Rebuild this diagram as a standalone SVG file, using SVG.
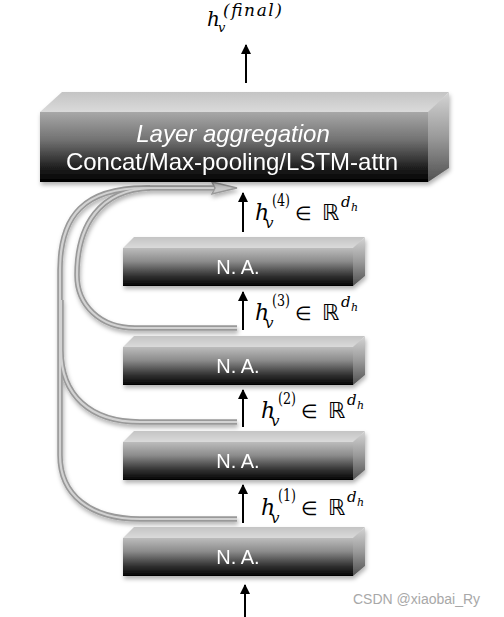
<svg xmlns="http://www.w3.org/2000/svg" width="504" height="617" viewBox="0 0 504 617">
<defs>
  <linearGradient id="gFront" x1="0" y1="0" x2="0" y2="1">
    <stop offset="0" stop-color="#bcbcbc"/>
    <stop offset="0.35" stop-color="#8c8c8c"/>
    <stop offset="0.75" stop-color="#2e2e2e"/>
    <stop offset="1" stop-color="#030303"/>
  </linearGradient>
  <linearGradient id="gBigFront" x1="0" y1="0" x2="0" y2="1">
    <stop offset="0" stop-color="#a8a8a8"/>
    <stop offset="0.4" stop-color="#727272"/>
    <stop offset="0.8" stop-color="#1e1e1e"/>
    <stop offset="1" stop-color="#000000"/>
  </linearGradient>
  <linearGradient id="gTop" x1="0" y1="0" x2="0" y2="1">
    <stop offset="0" stop-color="#c4c4c4"/>
    <stop offset="1" stop-color="#dadada"/>
  </linearGradient>
  <linearGradient id="gSide" x1="0" y1="0" x2="0" y2="1">
    <stop offset="0" stop-color="#d4d4d4"/>
    <stop offset="0.5" stop-color="#9a9a9a"/>
    <stop offset="1" stop-color="#505050"/>
  </linearGradient>
  <filter id="shadow" x="-10%" y="-20%" width="130%" height="160%">
    <feDropShadow dx="1" dy="3" stdDeviation="2" flood-color="#000" flood-opacity="0.3"/>
  </filter>
  <marker id="blk" viewBox="0 0 10 10" refX="9" refY="5" markerWidth="10" markerHeight="10" markerUnits="userSpaceOnUse" orient="auto">
    <path d="M0,0 L10,5 L0,10 Z" fill="#000"/>
  </marker>
</defs>
<style>
  .na { font-family: "Liberation Sans", Arial, sans-serif; font-size: 20px; fill: #fff; text-anchor: middle; }
  .big { font-family: "Liberation Sans", Arial, sans-serif; font-size: 24px; fill: #fff; text-anchor: middle; }
  .m { font-family: "DejaVu Serif", serif; fill: #000; }
  .it { font-style: italic; }
  .sym { font-family: "DejaVu Sans", sans-serif; }
  .arr { stroke: #000; stroke-width: 2; fill: none; marker-end: url(#blk); }
  .tubeO { fill: none; stroke: #999999; stroke-width: 5.5; }
  .tubeI { fill: none; stroke: #d2d2d2; stroke-width: 2.2; }
  .wm { font-family: "Liberation Sans", Arial, sans-serif; font-size: 14px; fill: #a8a8a8; }
</style>

<g id="connectors">
  <g id="skip-connections" filter="url(#shadow)">
    <path class="tubeO" d="M237,519 H140 C90,519 60,495 60,455 V270 C60,215 85,188 145,188 H214"/>
    <path class="tubeO" d="M237,422 H140 C90,422 61,395 61,350 V300"/>
    <path class="tubeO" d="M237,328 H135 C100,328 77,305 77,275 C77,225 100,190 150,188"/>
    <path class="tubeI" d="M237,519 H140 C90,519 60,495 60,455 V270 C60,215 85,188 145,188 H214"/>
    <path class="tubeI" d="M237,422 H140 C90,422 61,395 61,350 V300"/>
    <path class="tubeI" d="M237,328 H135 C100,328 77,305 77,275 C77,225 100,190 150,188"/>
    <polygon points="212,182 237,188 212,194 215,188" fill="#c8c8c8" stroke="#999999" stroke-width="1.5"/>
  </g>
  <line class="arr" x1="246" y1="83" x2="246" y2="45"/>
  <line class="arr" x1="243" y1="232" x2="243" y2="193"/>
  <line class="arr" x1="243" y1="330" x2="243" y2="292"/>
  <line class="arr" x1="243" y1="427" x2="243" y2="390"/>
  <line class="arr" x1="243" y1="523" x2="243" y2="485"/>
  <line class="arr" x1="245" y1="617" x2="245" y2="585"/>
</g>

<g id="layer-aggregation" filter="url(#shadow)">
  <polygon points="40,112 62,92 449,92 428,112" fill="url(#gTop)"/>
  <polygon points="428,112 449,92 449,168 428,182" fill="url(#gSide)"/>
  <rect x="40" y="112" width="388" height="70" fill="url(#gBigFront)"/>
  <text class="big" x="233" y="142" font-style="italic">Layer aggregation</text>
  <text class="big" x="232" y="170">Concat/Max-pooling/LSTM-attn</text>
</g>

<g id="na4" filter="url(#shadow)">
  <polygon points="123,248 134,237 365,237 353,248" fill="url(#gTop)"/>
  <polygon points="353,248 365,237 365,276 353,286" fill="url(#gSide)"/>
  <rect x="123" y="248" width="230" height="38" fill="url(#gFront)"/>
  <text class="na" x="238" y="274">N. A.</text>
</g>
<g id="na3" filter="url(#shadow)">
  <polygon points="123,347 134,336 365,336 353,347" fill="url(#gTop)"/>
  <polygon points="353,347 365,336 365,375 353,385" fill="url(#gSide)"/>
  <rect x="123" y="347" width="230" height="38" fill="url(#gFront)"/>
  <text class="na" x="238" y="373">N. A.</text>
</g>
<g id="na2" filter="url(#shadow)">
  <polygon points="123,442 134,431 365,431 353,442" fill="url(#gTop)"/>
  <polygon points="353,442 365,431 365,470 353,480" fill="url(#gSide)"/>
  <rect x="123" y="442" width="230" height="38" fill="url(#gFront)"/>
  <text class="na" x="238" y="468">N. A.</text>
</g>
<g id="na1" filter="url(#shadow)">
  <polygon points="123,538 134,527 365,527 353,538" fill="url(#gTop)"/>
  <polygon points="353,538 365,527 365,566 353,576" fill="url(#gSide)"/>
  <rect x="123" y="538" width="230" height="38" fill="url(#gFront)"/>
  <text class="na" x="238" y="564">N. A.</text>
</g>

<g id="label-final">
  <text class="m"><tspan class="it" x="207" y="26" font-size="20">h</tspan><tspan class="it" x="218" y="32" font-size="13">v</tspan><tspan class="it" x="223" y="16" font-size="17" textLength="59">(final)</tspan></text>
</g>

<g id="label-h4">
  <text class="m"><tspan class="it" x="255" y="220" font-size="22">h</tspan><tspan class="it" x="265" y="228" font-size="15">v</tspan><tspan x="272" y="206" font-size="17" textLength="18" lengthAdjust="spacingAndGlyphs">(4)</tspan><tspan class="sym" x="295" y="220" font-size="19">∈</tspan><tspan class="sym" x="322" y="220" font-size="22">ℝ</tspan><tspan class="it" x="341" y="207" font-size="15">d</tspan><tspan class="it" x="351" y="211" font-size="11">h</tspan></text>
</g>
<g id="label-h3">
  <text class="m"><tspan class="it" x="255" y="320" font-size="22">h</tspan><tspan class="it" x="265" y="328" font-size="15">v</tspan><tspan x="272" y="306" font-size="17" textLength="18" lengthAdjust="spacingAndGlyphs">(3)</tspan><tspan class="sym" x="295" y="320" font-size="19">∈</tspan><tspan class="sym" x="322" y="320" font-size="22">ℝ</tspan><tspan class="it" x="341" y="307" font-size="15">d</tspan><tspan class="it" x="351" y="311" font-size="11">h</tspan></text>
</g>
<g id="label-h2">
  <text class="m"><tspan class="it" x="261" y="418" font-size="22">h</tspan><tspan class="it" x="271" y="426" font-size="15">v</tspan><tspan x="278" y="404" font-size="17" textLength="18" lengthAdjust="spacingAndGlyphs">(2)</tspan><tspan class="sym" x="301" y="418" font-size="19">∈</tspan><tspan class="sym" x="328" y="418" font-size="22">ℝ</tspan><tspan class="it" x="347" y="405" font-size="15">d</tspan><tspan class="it" x="357" y="409" font-size="11">h</tspan></text>
</g>
<g id="label-h1">
  <text class="m"><tspan class="it" x="261" y="515" font-size="22">h</tspan><tspan class="it" x="271" y="523" font-size="15">v</tspan><tspan x="278" y="501" font-size="17" textLength="18" lengthAdjust="spacingAndGlyphs">(1)</tspan><tspan class="sym" x="301" y="515" font-size="19">∈</tspan><tspan class="sym" x="328" y="515" font-size="22">ℝ</tspan><tspan class="it" x="347" y="502" font-size="15">d</tspan><tspan class="it" x="357" y="506" font-size="11">h</tspan></text>
</g>

<text class="wm" x="353" y="604">CSDN @xiaobai_Ry</text>
</svg>
